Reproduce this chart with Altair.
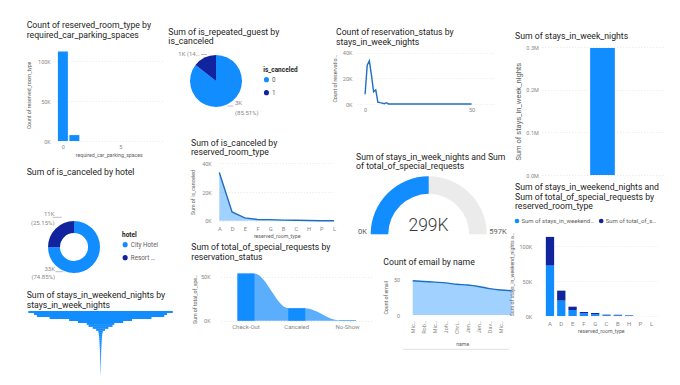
import math
import altair as alt
import pandas as pd

parking_spaces = [0, 1, 2, 3, 8]
parking_counts = [111974, 7383, 28, 3, 2]

repeat_is_canceled = ["0", "1"]
repeat_guest_sum = [3258, 552]

week_nights = [0, 1, 2, 3, 4, 5, 6, 7, 8, 9, 10, 11, 12, 13, 14, 15, 16, 17, 18, 19, 20, 21, 22,
               24, 25, 26, 30, 32, 33, 34, 35, 40, 41, 42, 50]
week_nights_count = [7645, 30310, 33684, 22258, 9563, 11077, 1499, 1029, 656, 231, 1036,
                     56, 42, 27, 35, 85, 16, 4, 6, 44, 41, 15, 7,
                     3, 6, 1, 5, 1, 1, 1, 1, 2, 1, 1, 1]

tall_bar_label = ["Sum of stays_in_week_nights"]
tall_bar_value = [298511]

hotels = ["City Hotel", "Resort Hotel"]
hotel_canceled = [33102, 11122]

room_types = ["A", "D", "E", "F", "G", "B", "C", "H", "P", "L"]
room_canceled = [33630, 6079, 1976, 836, 777, 370, 308, 184, 12, 2]

statuses = ["Check-Out", "Canceled", "No-Show"]
status_special = [53600, 14100, 450]

gauge_value = 298511
gauge_max = 597022

email_names = ["Michael Johnson", "Robert Smith", "Michael Smith", "John Smith", "Christopher Smith",
               "Jennifer Smith", "Jennifer Johnson", "David Smith", "Michael Williams", "Michael Brown"]
email_counts = [48, 47, 46, 45, 43, 42, 40, 37, 35, 34]

stack_rooms = ["A", "D", "E", "F", "G", "C", "B", "H", "P", "L"]
stack_measures = ["Sum of stays_in_weekend_nights", "Sum of total_of_special_requests"]
stack_weekend = [72000, 22000, 8600, 3800, 2700, 1200, 1000, 900, 5, 3]
stack_special = [41000, 14200, 4700, 1900, 1600, 700, 750, 300, 2, 1]

funnel_week_nights = [2, 5, 3, 1, 4, 0, 10, 6, 7, 8, 9, 15, 19, 20, 14, 11, 12, 13, 21, 16, 22,
                      25, 30, 18, 24, 17, 40, 26, 32, 33, 34, 35, 41, 42, 50]
funnel_weekend_sum = [27800, 25600, 24500, 19600, 12100, 8700, 5300, 4600, 3000, 1700,
                      860, 700, 600, 540, 480, 430, 390, 350, 310, 280,
                      250, 220, 190, 170, 150, 130, 110, 95, 80, 65,
                      50, 40, 30, 20, 10]

titles = {
    "parking": ["Count of reserved_room_type by", "required_car_parking_spaces"],
    "repeat": ["Sum of is_repeated_guest by", "is_canceled"],
    "line": ["Count of reservation_status by", "stays_in_week_nights"],
    "tall": ["Sum of stays_in_week_nights"],
    "donut": ["Sum of is_canceled by hotel"],
    "area": ["Sum of is_canceled by", "reserved_room_type"],
    "gauge": ["Sum of stays_in_week_nights and Sum", "of total_of_special_requests"],
    "stack": ["Sum of stays_in_weekend_nights and", "Sum of total_of_special_requests by", "reserved_room_type"],
    "ribbon": ["Sum of total_of_special_requests by", "reservation_status"],
    "email": ["Count of email by name"],
    "funnel": ["Sum of stays_in_weekend_nights by", "stays_in_week_nights"],
}

# ---------------- layout / style ----------------
W, H = 664, 366
FONT = "Roboto"
BLUE = "#118DFF"
NAVY = "#12239E"
LINE_C = "#1D6FC4"
RIBBON_C = "#5AAEFB"
GAUGE_BG = "#ECEBEB"
TITLE_C = "#252423"
LAB_C = "#8A8886"
AXT_C = "#605E5C"
GRID_C = "#E2E2E2"
LEADER_C = "#B3B0AD"
TITLE_FS = 8.7
TITLE_LH = 9.5
KEXPR = "datum.value/1000 + 'K'"
MEXPR = "format(datum.value/1000000, '.1f') + 'M'"

# title anchor positions (page pixels: left x, centre of first line)
title_pos = {
    "parking": (26.7, 25.0), "repeat": (168.3, 31.7), "line": (336.0, 32.0), "tall": (515.0, 36.0),
    "donut": (26.7, 171.7), "area": (191.0, 142.7), "gauge": (356.0, 156.7), "stack": (515.0, 187.3),
    "ribbon": (191.3, 247.3), "email": (383.3, 261.5), "funnel": (26.7, 295.3),
}


def px(v):
    return round(v - 8, 1)


def py(v):
    return round(v - 8, 1)


def ax(**kw):
    base = dict(domain=False, ticks=False, grid=False, labelFlush=False, labelOverlap=False,
                minExtent=0, labelFont=FONT, labelFontSize=5.5, labelColor=LAB_C,
                titleFont=FONT, titleFontSize=5.2, titleColor=AXT_C, titleFontWeight="normal",
                gridColor=GRID_C, gridDash=[1, 2], gridWidth=0.8)
    base.update(kw)
    return alt.Axis(**base)


def left_axis(plot_left, **kw):
    return ax(orient="left", offset=-px(plot_left), **kw)


def bottom_axis(plot_bottom, **kw):
    return ax(orient="bottom", offset=round(py(plot_bottom) - H, 1), **kw)


def legend(x, y, **kw):
    base = dict(orient="none", legendX=px(x), legendY=py(y), symbolType="circle", symbolSize=26,
                symbolStrokeWidth=0, labelFont=FONT, labelFontSize=6.3, labelColor=AXT_C,
                titleFont=FONT, titleFontSize=6.5, titleColor=TITLE_C, titleFontWeight="bold",
                titlePadding=3.5, rowPadding=6, labelOffset=2.5, padding=0)
    base.update(kw)
    return alt.Legend(**base)


def text_at(df, field, x, y_center, size, color, align="left", weight="normal", limit=None, lh=TITLE_LH):
    props = dict(align=align, baseline="alphabetic", font=FONT, fontSize=size, color=color,
                 fontWeight=weight, lineBreak="\n", lineHeight=lh)
    if limit:
        props["limit"] = limit
    return alt.Chart(df).mark_text(**props).encode(
        x=alt.value(px(x)), y=alt.value(py(y_center + 0.35 * size)), text=f"{field}:N")


def guide_line(x1, x2, y, color=LEADER_C, width=0.8):
    df = pd.DataFrame({"guide": ["line"]})
    return alt.Chart(df).mark_rule(color=color, strokeWidth=width).encode(
        x=alt.value(px(x1)), x2=alt.value(px(x2)), y=alt.value(py(y)))


layers = []

# titles
for key, lines in titles.items():
    tdf = pd.DataFrame({"title": ["\n".join(lines)]})
    x0, y0 = title_pos[key]
    layers.append(text_at(tdf, "title", x0, y0, TITLE_FS, TITLE_C))

# 1. parking spaces bar chart
park_df = pd.DataFrame({"required_car_parking_spaces": parking_spaces, "count": parking_counts})
layers.append(alt.Chart(park_df).mark_bar(color=BLUE, width=10).encode(
    x=alt.X("required_car_parking_spaces:Q",
            scale=alt.Scale(domain=[-0.4, 8.4], range=[px(53.3), px(164.2)], nice=False, zero=False),
            axis=bottom_axis(141, values=[0, 5], labelPadding=3, title="required_car_parking_spaces",
                             titlePadding=3)),
    y=alt.Y("count:Q", scale=alt.Scale(domain=[0, 115000], range=[py(141), py(49)], nice=False),
            axis=left_axis(53.3, values=[0, 50000, 100000], labelExpr=KEXPR, labelPadding=3, grid=True,
                           title="Count of reserved_room_type", titlePadding=6)),
))

# 2. pie of is_repeated_guest by is_canceled
rep_total = sum(repeat_guest_sum)
rep_df = pd.DataFrame({"is_canceled": repeat_is_canceled, "value": repeat_guest_sum})
rep_df["label"] = [f"{round(v / 1000)}K ({v / rep_total * 100:.2f}%)" for v in repeat_guest_sum]
rep_df["label2"] = [f"{round(v / 1000)}K\n({v / rep_total * 100:.2f}%)" for v in repeat_guest_sum]
layers.append(alt.Chart(rep_df).mark_arc(radius=26).encode(
    theta=alt.Theta("value:Q"),
    color=alt.Color("is_canceled:N", scale=alt.Scale(domain=repeat_is_canceled, range=[BLUE, NAVY]),
                    legend=legend(263.3, 66.5, title="is_canceled")),
    x=alt.value(px(216)), y=alt.value(py(81)),
))
layers.append(text_at(rep_df[rep_df["is_canceled"] == "1"], "label", 178.3, 54.3, 6, LAB_C, limit=23))
layers.append(text_at(rep_df[rep_df["is_canceled"] == "0"], "label2", 235.0, 103.3, 6, LAB_C, lh=9.4))
layers.append(guide_line(201.0, 207.0, 54.5))
layers.append(guide_line(227.7, 233.3, 106.0))

# 3. line chart
wn_df = pd.DataFrame({"stays_in_week_nights": week_nights, "count": week_nights_count})
layers.append(alt.Chart(wn_df).mark_line(color=LINE_C, strokeWidth=1.4).encode(
    x=alt.X("stays_in_week_nights:Q",
            scale=alt.Scale(domain=[-3.8, 61], range=[px(357), px(495)], nice=False, zero=False),
            axis=bottom_axis(104, values=[0, 50], labelPadding=3.5, title=None)),
    y=alt.Y("count:Q", scale=alt.Scale(domain=[0, 40000], range=[py(104), py(52.7)], nice=False),
            axis=left_axis(357, values=[0, 20000, 40000], labelExpr=KEXPR, labelPadding=5, grid=True,
                           title="Count of reservation_status", titleLimit=50, titlePadding=5)),
))

# 4. tall single bar
tb_df = pd.DataFrame({"measure": tall_bar_label, "value": tall_bar_value})
layers.append(alt.Chart(tb_df).mark_bar(color=BLUE, width=24.7).encode(
    x=alt.X("measure:N", scale=alt.Scale(range=[px(541.7), px(663.3)], paddingInner=0, paddingOuter=0),
            axis=None),
    y=alt.Y("value:Q", scale=alt.Scale(domain=[0, 300000], range=[py(175), py(47.3)], nice=False),
            axis=left_axis(541.7, values=[0, 100000, 200000, 300000], labelExpr=MEXPR, labelPadding=3.4,
                           grid=True, title="Sum of stays_in_week_nights", titleFontSize=7.5, titlePadding=3)),
))

# 5. donut by hotel
hot_total = sum(hotel_canceled)
hotel_df = pd.DataFrame({"hotel": hotels, "canceled": hotel_canceled})
hotel_df["label2"] = [f"{round(v / 1000)}K\n({v / hot_total * 100:.2f}%)" for v in hotel_canceled]
layers.append(alt.Chart(hotel_df).mark_arc(radius=26, innerRadius=14).encode(
    theta=alt.Theta("canceled:Q"),
    color=alt.Color("hotel:N", scale=alt.Scale(domain=hotels, range=[BLUE, NAVY]),
                    legend=legend(122, 231.5, title="hotel", labelLimit=60,
                                  labelExpr="length(datum.label) > 10 ? truncate(datum.label, 8) : datum.label")),
    x=alt.value(px(74)), y=alt.value(py(247)),
))
layers.append(text_at(hotel_df[hotel_df["hotel"] == hotels[1]], "label2", 54.5, 214.0, 6, LAB_C,
                      align="right", lh=8.7))
layers.append(text_at(hotel_df[hotel_df["hotel"] == hotels[0]], "label2", 55.0, 269.3, 6, LAB_C,
                      align="right", lh=8.0))
layers.append(guide_line(52.5, 61.7, 217.3))
layers.append(guide_line(55.5, 63.3, 271.7))

# 6. area of is_canceled by room type
rc_df = pd.DataFrame({"reserved_room_type": room_types, "canceled": room_canceled})
layers.append(alt.Chart(rc_df).mark_area(
    color=BLUE, fillOpacity=0.4, line={"color": LINE_C, "strokeWidth": 1.4}).encode(
    x=alt.X("reserved_room_type:N", sort=room_types,
            scale=alt.Scale(type="point", range=[px(219.3), px(334)], padding=0),
            axis=bottom_axis(220.7, labelAngle=0, labelPadding=4.8, labelFontSize=5.8,
                             title="reserved_room_type", titlePadding=2.5)),
    y=alt.Y("canceled:Q", scale=alt.Scale(domain=[0, 40000], range=[py(220.7), py(163.3)], nice=False),
            axis=left_axis(219.3, values=[0, 20000, 40000], labelExpr=KEXPR, labelPadding=8, grid=True,
                           title="Sum of is_canceled", titlePadding=6)),
))

# 7. ribbon: special requests by reservation status
RIB_PAD = 0.665
half = (1 - RIB_PAD) / 2
rib_df = pd.DataFrame([{"pos": i + s * half, "special": v}
                       for i, v in enumerate(status_special) for s in (-1, 1)])
rib_y = alt.Scale(domain=[0, 50000], range=[py(320.7), py(276.7)], nice=False)
layers.append(alt.Chart(rib_df).mark_area(color=RIBBON_C, interpolate="monotone").encode(
    x=alt.X("pos:Q", scale=alt.Scale(domain=[-0.5, 2.5], range=[px(220.6), px(372.9)], nice=False, zero=False),
            axis=None),
    y=alt.Y("special:Q", scale=rib_y, axis=None),
))
st_df = pd.DataFrame({"reservation_status": statuses, "special": status_special})
layers.append(alt.Chart(st_df).mark_bar(color=BLUE).encode(
    x=alt.X("reservation_status:N", sort=statuses,
            scale=alt.Scale(range=[px(220.6), px(372.9)], paddingInner=RIB_PAD, paddingOuter=RIB_PAD / 2),
            axis=bottom_axis(320.7, labelAngle=0, labelPadding=3, labelFontSize=6, title=None)),
    y=alt.Y("special:Q", scale=rib_y,
            axis=left_axis(220.6, values=[0, 50000], labelExpr=KEXPR, labelPadding=10.5, grid=True,
                           title="Sum of total_of_special_requests", titleLimit=50, titlePadding=2.5)),
))

# 8. gauge
g_df = pd.DataFrame({"part": ["max", "value"], "start": [0, 0], "end": [gauge_max, gauge_value]})
layers.append(alt.Chart(g_df).mark_arc(radius=58, innerRadius=40.5).encode(
    theta=alt.Theta("start:Q", stack=False,
                    scale=alt.Scale(domain=[0, gauge_max], range=[1.5 * math.pi, 2.5 * math.pi])),
    theta2="end:Q",
    color=alt.Color("part:N", scale=alt.Scale(domain=["max", "value"], range=[GAUGE_BG, BLUE]), legend=None),
    x=alt.value(px(428.7)), y=alt.value(py(234.3)),
))
gv_df = pd.DataFrame({"t": [f"{round(gauge_value / 1000)}K"]})
gmin_df = pd.DataFrame({"t": ["0K"]})
gmax_df = pd.DataFrame({"t": [f"{round(gauge_max / 1000)}K"]})
layers.append(text_at(gv_df, "t", 428.5, 225.0, 17.5, "#3B3A39", align="center", weight=300))
layers.append(text_at(gmin_df, "t", 358.0, 231.7, 7.5, AXT_C))
layers.append(text_at(gmax_df, "t", 489.3, 231.7, 7.5, AXT_C))

# 9. email area
em_df = pd.DataFrame({"name": email_names, "count": email_counts})
layers.append(alt.Chart(em_df).mark_area(
    color=BLUE, fillOpacity=0.4, interpolate="monotone", line={"color": LINE_C, "strokeWidth": 1.4}).encode(
    x=alt.X("name:N", sort=email_names,
            scale=alt.Scale(type="point", range=[px(412.7), px(511.6)], padding=0),
            axis=bottom_axis(315, values=email_names[:9], labelAngle=270, labelLimit=14, labelPadding=5,
                             title="name", titlePadding=8)),
    y=alt.Y("count:Q", scale=alt.Scale(domain=[0, 50], range=[py(315), py(279.3)], nice=False),
            axis=left_axis(412.7, values=[0, 50], labelPadding=13, title="Count of email", titlePadding=5.5)),
))
layers.append(guide_line(403.0, 509.0, 349.3, color="#E6E6E6", width=1.2))

# 10. stacked bars by room type
sk_df = pd.DataFrame({"reserved_room_type": stack_rooms, "weekend": stack_weekend, "special": stack_special})
sk_df["total"] = sk_df["weekend"] + sk_df["special"]
sk_df["m1"] = stack_measures[0]
sk_df["m2"] = stack_measures[1]
sx = alt.Scale(range=[px(543), px(658.7)], paddingInner=0.265, paddingOuter=0.25)
sy = alt.Scale(domain=[0, 120000], range=[py(316), py(232)], nice=False)
layers.append(alt.Chart(sk_df).mark_bar().encode(
    x=alt.X("reserved_room_type:N", sort=stack_rooms, scale=sx,
            axis=bottom_axis(316, labelAngle=0, labelPadding=4.5, labelFontSize=6,
                             title="reserved_room_type", titlePadding=2)),
    y=alt.Y("weekend:Q", scale=sy,
            axis=left_axis(535, values=[0, 50000, 100000], labelExpr=KEXPR, labelPadding=3.3, grid=True,
                           title="Sum of stays_in_weekend_nights and Sum of total_of_special_requests",
                           titleLimit=84, titlePadding=4)),
    color=alt.Color("m1:N", scale=alt.Scale(range=[BLUE]),
                    legend=legend(514, 218, title=None, labelLimit=74, labelFontSize=6, labelOffset=1.5,
                                  symbolSize=22)),
))
layers.append(alt.Chart(sk_df).mark_bar().encode(
    x=alt.X("reserved_room_type:N", sort=stack_rooms, scale=sx, axis=None),
    y=alt.Y("weekend:Q", scale=sy, axis=None),
    y2="total:Q",
    color=alt.Color("m2:N", scale=alt.Scale(range=[NAVY]),
                    legend=legend(598.2, 218, title=None, labelLimit=51, labelFontSize=6, labelOffset=1.5,
                                  symbolSize=22)),
))

# 11. funnel
fn_df = pd.DataFrame({"stays_in_week_nights": [str(v) for v in funnel_week_nights],
                      "weekend": funnel_weekend_sum})
fn_df["lo"] = -fn_df["weekend"] / 2
fn_df["hi"] = fn_df["weekend"] / 2
fmax = max(funnel_weekend_sum) / 2
layers.append(alt.Chart(fn_df).mark_bar(color=BLUE).encode(
    x=alt.X("lo:Q", scale=alt.Scale(domain=[-fmax, fmax], range=[px(28.3), px(172.8)], nice=False, zero=False),
            axis=None),
    x2="hi:Q",
    y=alt.Y("stays_in_week_nights:N", sort=list(fn_df["stays_in_week_nights"]),
            scale=alt.Scale(range=[py(311), py(380.5)], paddingInner=0, paddingOuter=0), axis=None),
))

chart = alt.layer(*layers).resolve_scale(
    x="independent", y="independent", color="independent", theta="independent"
).resolve_axis(x="independent", y="independent").resolve_legend(color="independent").properties(
    width=W, height=H, padding=0, autosize=alt.AutoSizeParams(type="none")
).configure_view(strokeWidth=0)

chart.save("out.html", embed_options={"renderer": "svg", "actions": False})
